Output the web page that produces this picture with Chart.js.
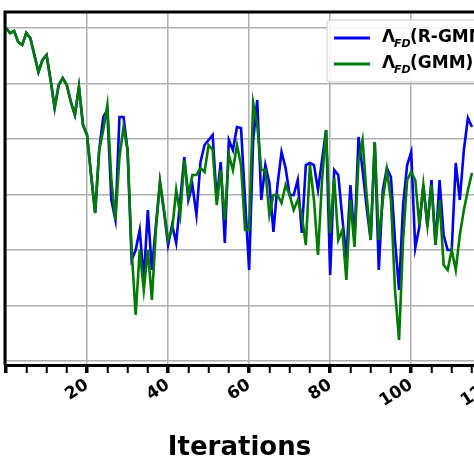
<!DOCTYPE html>
<html><head><meta charset="utf-8">
<script src="https://cdn.jsdelivr.net/npm/chart.js@4"></script>
<style>html,body{margin:0;padding:0;background:#fff}#c{display:block}</style>
</head><body>
<div style="width:474px;height:474px"><canvas id="c"></canvas></div>
<script>
// values (height above lowest grid line, in px units)
const rgmm = [333,328,330,319,316,328,323,306,289,301,306,281,253,276,283,276,259,246,274,236,
  226,186,148,211,244,251,161,141,244,244,211,101,111,131,81,151,91,136,179,149,
  116,136,118,161,204,161,176,146,199,216,221,226,161,199,118,221,211,234,233,161,
  91,221,261,161,196,178,129,176,209,193,166,166,181,128,196,198,196,171,201,231,
  86,191,186,143,103,176,121,224,191,154,121,219,91,171,193,184,121,71,156,196,
  209,113,134,176,134,181,116,181,126,111,111,198,161,211,243,234];
const gmm = [333,328,330,319,316,328,323,306,289,301,306,281,253,276,283,276,259,246,274,236,
  226,186,148,211,231,256,181,141,204,234,211,111,46,111,71,111,61,131,179,151,
  121,131,171,146,201,166,186,186,193,189,216,211,156,191,141,206,191,216,196,131,
  131,258,236,191,191,146,166,166,158,176,166,151,161,146,116,196,161,106,181,231,
  128,183,121,131,81,161,114,201,221,166,121,219,121,161,191,161,71,21,121,181,
  189,181,136,176,136,176,116,161,96,91,111,91,126,151,171,188];
const iterations = rgmm.map((_, i) => i);
const xTicks = [0,5,10,15,20,25,30,35,40,45,50,55,60,65,70,75,80,85,90,95,100,105,110,115,120];
const yTicks = [0,55.5,111,166.5,222,277.5,333];
const labels = ['R-GMM', 'GMM'];
const colors = ['#0000ee', '#007a00'];

const frame = {
  id: 'frame',
  afterDraw(chart) {
    const {ctx, chartArea: a} = chart;
    ctx.save();
    ctx.strokeStyle = '#000';
    ctx.lineWidth = 3;
    ctx.beginPath();
    ctx.moveTo(a.left, a.bottom); ctx.lineTo(a.left, a.top); ctx.lineTo(a.right + 2, a.top);
    ctx.stroke();
    // legend
    const x0 = 327, y0 = 20;
    ctx.fillStyle = 'rgba(255,255,255,0.85)';
    ctx.strokeStyle = '#ccc'; ctx.lineWidth = 1;
    ctx.beginPath(); ctx.roundRect(x0, y0, 170, 62, 3); ctx.fill(); ctx.stroke();
    labels.forEach((l, k) => {
      const y = y0 + 18 + k * 26;
      ctx.strokeStyle = colors[k]; ctx.lineWidth = 3;
      ctx.beginPath(); ctx.moveTo(334, y); ctx.lineTo(370, y); ctx.stroke();
      ctx.fillStyle = '#000'; ctx.textBaseline = 'middle';
      ctx.font = 'bold 17px "DejaVu Sans"';
      ctx.fillText('Λ', 382, y);
      ctx.font = 'italic bold 11px "DejaVu Sans"';
      ctx.fillText('FD', 394, y + 6);
      ctx.font = 'bold 17px "DejaVu Sans"';
      ctx.fillText('(' + l + ')', 410, y);
    });
    ctx.restore();
  }
};

new Chart(document.getElementById('c'), {
  type: 'line',
  data: {
    labels: iterations,
    datasets: [
      {label: labels[0], order: 1, data: rgmm.map((v, i) => ({x: i, y: v})), borderColor: colors[0], borderWidth: 2.6, pointRadius: 0, tension: 0},
      {label: labels[1], order: 0, data: gmm.map((v, i) => ({x: i, y: v})), borderColor: colors[1], borderWidth: 2.6, pointRadius: 0, tension: 0}
    ]
  },
  options: {
    animation: false, responsive: true, maintainAspectRatio: false,
    layout: {padding: {top: 12, left: 0, right: 0, bottom: 6}},
    plugins: {legend: {display: false}, tooltip: {enabled: false}},
    scales: {
      x: {
        type: 'linear', min: -0.25, max: 115.5,
        afterBuildTicks: s => { s.ticks = xTicks.map(v => ({value: v})); },
        afterFit: s => { s.height = 103; s.paddingLeft = 0; s.paddingRight = 0; },
        border: {color: '#000', width: 3},
        grid: {
          color: c => (c.tick && c.tick.value % 20 === 0) ? '#b0b0b0' : 'rgba(0,0,0,0)',
          lineWidth: 1.5, tickColor: '#000', tickLength: 8,
          tickWidth: c => (c.tick && c.tick.value % 20 === 0) ? 3.5 : 2
        },
        ticks: {
          autoSkip: false, minRotation: 33, maxRotation: 33, color: '#000', padding: 2,
          font: {family: 'DejaVu Sans', size: 17, weight: 'bold'},
          callback: v => v % 20 === 0 && v > 0 ? String(v) : ''
        },
        title: {display: true, text: 'Iterations', color: '#000', padding: {top: 0},
          font: {family: 'DejaVu Sans', size: 26, weight: 'bold'}}
      },
      y: {
        min: -4, max: 349,
        afterBuildTicks: s => { s.ticks = yTicks.map(v => ({value: v})); },
        afterFit: s => { s.width = 5; },
        border: {display: false},
        grid: {color: '#b0b0b0', lineWidth: 1.5, drawTicks: false},
        ticks: {display: false}
      }
    }
  },
  plugins: [frame]
});
</script>
</body></html>
